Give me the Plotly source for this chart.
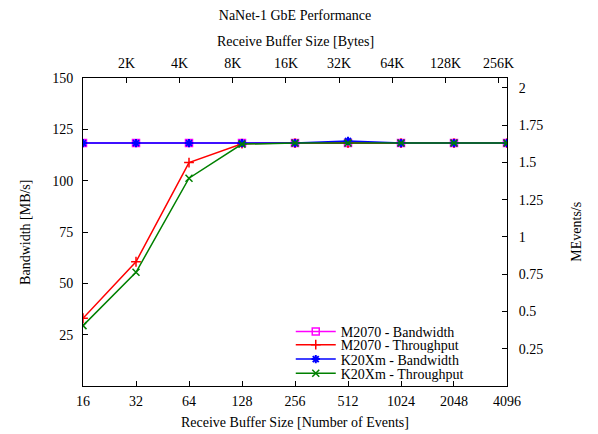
import plotly.graph_objects as go

# receive buffer size, number of events (bottom axis)
events = [16, 32, 64, 128, 256, 512, 1024, 2048, 4096]

# bandwidth / throughput in MB/s
m2070_bw = [118.3, 118.3, 118.3, 118.3, 118.3, 118.3, 118.3, 118.3, 118.3]
m2070_tp = [33.0, 60.5, 108.8, 118.0, 118.3, 118.3, 118.3, 118.3, 118.3]
k20xm_bw = [118.3, 118.3, 118.3, 118.3, 118.3, 119.3, 118.3, 118.3, 118.3]
k20xm_tp = [29.4, 55.4, 101.2, 117.8, 118.3, 118.3, 118.3, 118.3, 118.3]

# top axis (bytes)
bytes_ticks = [2048, 4096, 8192, 16384, 32768, 65536, 131072, 262144]
bytes_labels = ['2K', '4K', '8K', '16K', '32K', '64K', '128K', '256K']

# left and right axis ticks
bw_ticks = [25, 50, 75, 100, 125, 150]
mev_ticks = [0.25, 0.5, 0.75, 1, 1.25, 1.5, 1.75, 2]
mev_labels = ['0.25', '0.5', '0.75', '1', '1.25', '1.5', '1.75', '2']

FONT = 'Liberation Serif, Times New Roman, serif'

fig = go.Figure()
fig.add_trace(go.Scatter(x=events, y=m2070_bw, name='M2070 - Bandwidth', mode='lines+markers',
                         legend='legend',
                         line=dict(color='#ff00ff', width=1.5),
                         marker=dict(symbol='square-open', size=7, color='#ff00ff', line=dict(width=1.5))))
fig.add_trace(go.Scatter(x=events, y=m2070_tp, name='M2070 - Throughput', mode='lines+markers',
                         legend='legend2',
                         line=dict(color='#ff0000', width=1.5),
                         marker=dict(symbol='cross-thin-open', size=7, color='#ff0000', line=dict(width=1.5, color='#ff0000'))))
fig.add_trace(go.Scatter(x=events, y=k20xm_bw, name='K20Xm - Bandwidth', mode='lines+markers',
                         legend='legend3',
                         line=dict(color='#0000ff', width=1.5),
                         marker=dict(symbol='asterisk-open', size=7, color='#0000ff', line=dict(width=2, color='#0000ff'))))
fig.add_trace(go.Scatter(x=events, y=k20xm_tp, name='K20Xm - Throughput', mode='lines+markers',
                         legend='legend4',
                         line=dict(color='#008000', width=1.5),
                         marker=dict(symbol='x-thin-open', size=7, color='#008000', line=dict(width=1.5, color='#008000'))))
# empty trace so the top / right axes get drawn
fig.add_trace(go.Scatter(x=[], y=[], xaxis='x2', yaxis='y2', showlegend=False, hoverinfo='skip'))

axis_common = dict(showline=True, linecolor='black', linewidth=1, ticks='inside', ticklen=5,
                   tickcolor='black', showgrid=False, zeroline=False,
                   tickfont=dict(family=FONT, size=14, color='black'))


def leg(y):
    return dict(x=0.49, y=y, xanchor='left', yanchor='middle', bgcolor='rgba(0,0,0,0)',
                font=dict(family=FONT, size=14, color='black'), itemwidth=40)


fig.update_layout(
    width=598, height=434,
    margin=dict(l=83, r=91, t=78, b=48),
    paper_bgcolor='white', plot_bgcolor='white',
    font=dict(family=FONT, size=14, color='black'),
    title=dict(text='NaNet-1 GbE Performance', x=295 / 598, xanchor='center', xref='container',
               y=1 - 15 / 434, yanchor='middle', yref='container',
               font=dict(family=FONT, size=14, color='black')),
    xaxis=dict(type='log', range=[1.2041, 3.6124], tickvals=events,
               ticktext=[str(e) for e in events], mirror=True, ticklabelstandoff=2, **axis_common),
    yaxis=dict(range=[0, 150], tickvals=bw_ticks, mirror=True, ticklabelstandoff=6, **axis_common),
    xaxis2=dict(type='log', overlaying='x', side='top', range=[3.0651, 5.4661],
                tickvals=bytes_ticks, ticktext=bytes_labels, ticklabelstandoff=3, **axis_common),
    yaxis2=dict(overlaying='y', side='right', range=[0, 2.066], tickvals=mev_ticks,
                ticktext=mev_labels, ticklabelstandoff=8, **axis_common),
    legend=leg(0.176),
    legend2=leg(0.133),
    legend3=leg(0.086),
    legend4=leg(0.040),
    showlegend=True,
)

fig.add_annotation(text='Receive Buffer Size [Bytes]', xref='paper', yref='paper', x=0.5, y=1.117,
                   showarrow=False, xanchor='center', yanchor='middle')
fig.add_annotation(text='Receive Buffer Size [Number of Events]', xref='paper', yref='paper', x=0.5, y=-0.119,
                   showarrow=False, xanchor='center', yanchor='middle')
fig.add_annotation(text='Bandwidth [MB/s]', xref='paper', yref='paper', x=-0.137, y=0.5, textangle=-90,
                   showarrow=False, xanchor='center', yanchor='middle')
fig.add_annotation(text='MEvents/s', xref='paper', yref='paper', x=1.162, y=0.5, textangle=-90,
                   showarrow=False, xanchor='center', yanchor='middle')

fig.write_html('out.html', config={'displayModeBar': False},
               post_script="document.body.style.margin='0';")
